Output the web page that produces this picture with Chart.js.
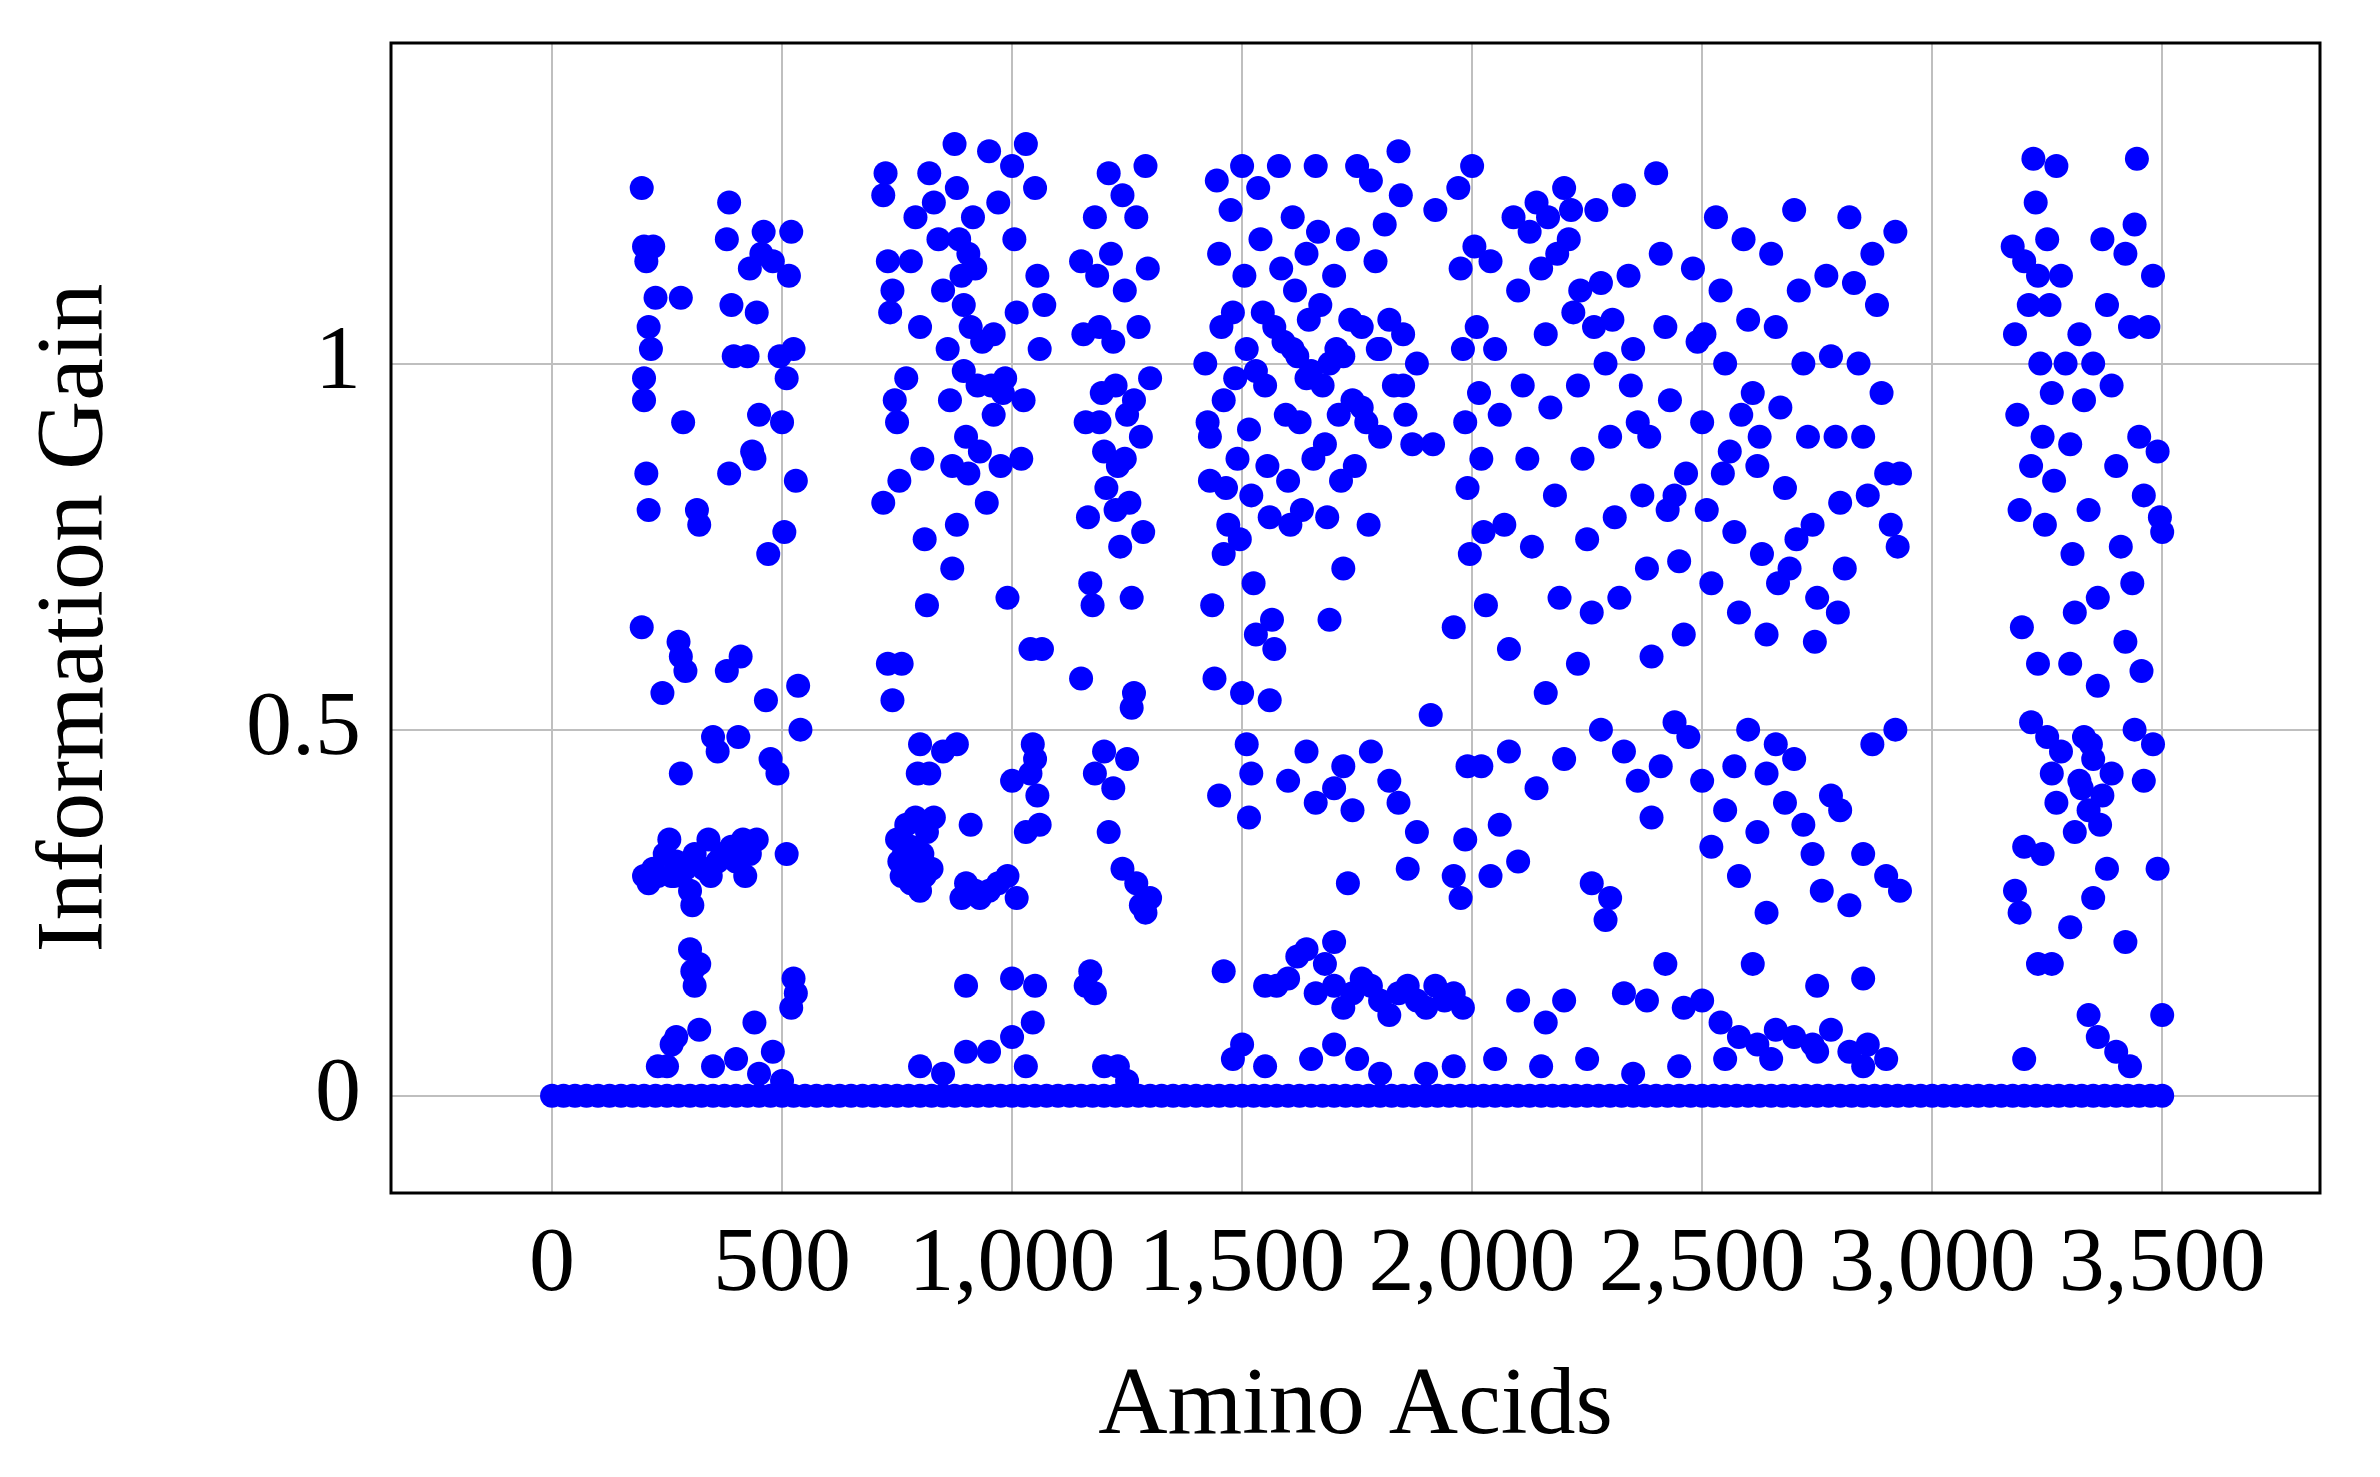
<!DOCTYPE html>
<html>
<head>
<meta charset="utf-8">
<script src="https://cdn.jsdelivr.net/npm/chart.js@4"></script>
<style>
  html, body { margin: 0; padding: 0; background: #fff; }
  #wrap { width: 2380px; height: 1477px; }
</style>
</head>
<body>
<div id="wrap"><canvas id="chart"></canvas></div>
<script>
// x positions of the points sitting on y = 0
const zeroX = [0,25,50,75,100,125,150,175,200,225,250,275,300,325,350,375,400,425,450,475,500,525,550,575,600,625,650,675,700,725,750,775,800,825,850,875,900,925,950,975,1000,1025,1050,1075,1100,1125,1150,1175,1200,1225,1250,1275,1300,1325,1350,1375,1400,1425,1450,1475,1500,1525,1550,1575,1600,1625,1650,1675,1700,1725,1750,1775,1800,1825,1850,1875,1900,1925,1950,1975,2000,2025,2050,2075,2100,2125,2150,2175,2200,2225,2250,2275,2300,2325,2350,2375,2400,2425,2450,2475,2500,2525,2550,2575,2600,2625,2650,2675,2700,2725,2750,2775,2800,2825,2850,2875,2900,2925,2950,2975,3000,3025,3050,3075,3100,3125,3150,3175,3200,3225,3250,3275,3300,3325,3350,3375,3400,3425,3450,3475,3500];

const groupA = [[195,1.24],[200,1.16],[205,1.14],[210,1.05],[200,0.98],[200,0.95],[205,0.85],[210,0.8],[195,0.64],[215,1.02],[220,1.16],[225,1.09],[200,0.3],[210,0.29],[220,0.31],[230,0.3],[240,0.55],[245,0.33],[255,0.35],[260,0.3],[270,0.32],[275,0.62],[280,0.6],[285,0.92],[280,1.09],[290,0.58],[300,0.28],[305,0.26],[310,0.33],[315,0.8],[320,0.78],[300,0.2],[305,0.17],[310,0.15],[320,0.18],[330,0.31],[340,0.35],[350,0.49],[360,0.47],[370,0.33],[380,0.58],[385,0.85],[390,1.08],[380,1.17],[385,1.22],[395,1.01],[400,0.32],[405,0.49],[410,0.6],[415,0.35],[420,0.3],[425,1.01],[430,1.13],[435,0.88],[440,0.87],[445,1.07],[450,0.93],[455,1.15],[460,1.18],[465,0.54],[470,0.74],[475,0.46],[480,1.14],[490,0.44],[495,1.01],[500,0.92],[505,0.77],[510,0.98],[515,1.12],[520,1.18],[525,1.02],[530,0.84],[535,0.56],[540,0.5],[530,0.14],[525,0.16],[520,0.12],[510,0.33],[440,0.1],[260,0.07],[270,0.08],[320,0.09],[250,0.04],[230,0.04],[350,0.04],[400,0.05],[450,0.03],[480,0.06],[500,0.02],[280,0.44],[265,0.3],[290,0.31],[345,0.3],[360,0.32],[390,0.34],[430,0.33],[445,0.35]];

const groupB = [[720,1.23],[725,1.26],[730,1.14],[735,1.07],[740,1.1],[745,0.95],[750,0.92],[755,0.84],[720,0.81],[730,0.59],[740,0.54],[750,0.35],[755,0.32],[760,0.3],[765,0.33],[770,0.37],[780,0.29],[790,0.32],[795,0.44],[800,0.48],[800,0.28],[810,0.3],[815,0.36],[820,0.44],[830,0.38],[760,0.59],[770,0.98],[780,1.14],[790,1.2],[800,1.05],[805,0.87],[810,0.76],[815,0.67],[820,1.26],[830,1.22],[840,1.17],[850,1.1],[860,1.02],[865,0.95],[870,0.86],[875,1.3],[880,1.24],[885,1.17],[890,1.12],[895,0.99],[900,0.9],[905,0.85],[910,1.05],[915,1.2],[920,1.13],[925,0.97],[930,0.88],[935,1.03],[945,0.81],[950,1.29],[955,0.97],[960,0.93],[970,1.22],[975,0.86],[980,0.96],[990,0.68],[1000,1.27],[1005,1.17],[1010,1.07],[1020,0.87],[1025,0.95],[1030,1.3],[1040,0.61],[1050,1.24],[1055,1.12],[1060,1.02],[1065,0.61],[1070,1.08],[870,0.72],[880,0.78],[890,0.27],[900,0.29],[910,0.37],[920,0.28],[930,0.27],[950,0.28],[970,0.29],[990,0.3],[1000,0.43],[1010,0.27],[1030,0.36],[1040,0.44],[1045,0.48],[1050,0.46],[1055,0.41],[1060,0.37],[1050,0.15],[1045,0.1],[1000,0.16],[900,0.15],[880,0.48],[850,0.47],[950,0.06],[1000,0.08],[1030,0.04],[900,0.06],[850,0.03],[800,0.04],[780,0.34],[790,0.38],[805,0.33],[825,0.31],[895,1.08],[905,1.15],[960,1.04],[985,0.98]];

const groupC = [[1150,1.14],[1155,1.04],[1160,0.92],[1165,0.79],[1170,0.7],[1175,0.67],[1180,1.2],[1185,1.12],[1190,1.05],[1195,0.96],[1200,0.88],[1205,0.83],[1210,1.26],[1215,1.15],[1220,1.03],[1225,0.97],[1230,0.86],[1235,0.75],[1240,1.23],[1245,1.1],[1250,0.93],[1255,0.81],[1260,0.68],[1265,0.55],[1270,1.2],[1275,1.05],[1280,0.9],[1285,0.77],[1290,1.27],[1295,1.13],[1300,0.98],[1150,0.57],[1180,0.44],[1200,0.47],[1210,0.36],[1220,0.42],[1250,0.46],[1260,0.53],[1240,0.31],[1270,0.29],[1280,0.26],[1300,0.27],[1290,0.25],[1170,0.17],[1180,0.14],[1160,0.15],[1200,0.04],[1230,0.04],[1250,0.02],[1190,0.92],[1225,0.8],[1245,0.87],[1265,0.95]];

const groupD = [[1420,1.0],[1425,0.92],[1430,0.84],[1435,0.67],[1440,0.57],[1445,1.25],[1450,1.15],[1455,1.05],[1460,0.95],[1465,0.83],[1470,0.78],[1475,1.21],[1480,1.07],[1485,0.98],[1490,0.87],[1495,0.76],[1500,1.27],[1505,1.12],[1510,1.02],[1515,0.91],[1520,0.82],[1525,0.7],[1530,0.63],[1535,1.24],[1540,1.17],[1545,1.07],[1550,0.97],[1555,0.86],[1560,0.79],[1565,0.65],[1570,0.61],[1580,1.27],[1585,1.13],[1590,1.03],[1595,0.93],[1600,0.84],[1605,0.78],[1610,1.2],[1615,1.1],[1620,1.01],[1625,0.92],[1630,0.8],[1640,1.15],[1645,1.06],[1650,0.99],[1655,0.87],[1660,1.27],[1665,1.18],[1670,1.08],[1675,0.97],[1680,0.89],[1685,0.79],[1690,0.65],[1700,1.12],[1705,1.02],[1710,0.93],[1715,0.84],[1720,0.72],[1730,1.17],[1735,1.06],[1740,0.95],[1745,0.86],[1750,1.27],[1760,1.05],[1770,0.92],[1775,0.78],[1780,1.25],[1790,1.14],[1795,1.02],[1800,0.9],[1810,1.19],[1820,1.06],[1830,0.97],[1840,1.29],[1845,1.23],[1850,1.04],[1855,0.93],[1870,0.89],[1920,1.21],[1915,0.89],[1450,0.41],[1460,0.17],[1500,0.55],[1510,0.48],[1515,0.38],[1520,0.44],[1560,0.54],[1600,0.43],[1640,0.47],[1660,0.4],[1700,0.42],[1720,0.45],[1730,0.29],[1700,0.21],[1740,0.39],[1780,0.47],[1820,0.43],[1840,0.4],[1860,0.31],[1880,0.36],[1910,0.52],[1960,0.3],[1975,0.27],[1985,0.35],[1990,0.45],[1600,0.16],[1620,0.19],[1640,0.2],[1660,0.14],[1680,0.18],[1700,0.15],[1720,0.12],[1740,0.14],[1760,0.16],[1780,0.15],[1800,0.13],[1820,0.11],[1840,0.14],[1860,0.15],[1880,0.13],[1900,0.12],[1920,0.15],[1940,0.13],[1960,0.14],[1980,0.12],[1550,0.15],[1575,0.15],[1500,0.07],[1480,0.05],[1550,0.04],[1650,0.05],[1700,0.07],[1750,0.05],[1800,0.03],[1900,0.03],[1960,0.04],[1430,0.9],[1460,0.74],[1530,0.99],[1570,1.05],[1610,1.02],[1640,0.98],[1690,1.0],[1720,1.01],[1760,0.94],[1800,1.02],[1850,0.97],[1880,1.0],[1960,0.64]];

const groupE = [[1970,1.24],[1975,1.13],[1980,1.02],[1985,0.92],[1990,0.83],[1995,0.74],[2000,1.27],[2005,1.16],[2010,1.05],[2015,0.96],[2020,0.87],[2025,0.77],[2030,0.67],[2040,1.14],[2050,1.02],[2060,0.93],[2070,0.78],[2080,0.61],[2090,1.2],[2100,1.1],[2110,0.97],[2120,0.87],[2130,0.75],[2140,1.22],[2150,1.13],[2160,1.04],[2170,0.94],[2180,0.82],[2190,0.68],[2200,1.24],[2210,1.17],[2220,1.07],[2230,0.97],[2240,0.87],[2250,0.76],[2260,0.66],[2270,1.21],[2280,1.11],[2290,1.0],[2300,0.9],[2310,0.79],[2320,0.68],[2330,1.23],[2340,1.12],[2350,1.02],[2360,0.92],[2370,0.82],[2380,0.72],[2390,0.6],[2400,1.26],[2410,1.15],[2420,1.05],[2430,0.95],[2440,0.82],[2450,0.73],[2460,0.63],[2480,1.13],[2490,1.03],[2500,0.92],[2510,0.8],[2520,0.7],[2530,1.2],[2540,1.1],[2550,1.0],[2560,0.88],[2570,0.77],[2580,0.66],[2590,1.17],[2600,1.06],[2610,0.96],[2620,0.86],[2630,0.74],[2640,0.63],[2650,1.15],[2660,1.05],[2670,0.94],[2680,0.83],[2690,0.72],[2700,1.21],[2710,1.1],[2720,1.0],[2730,0.9],[2740,0.78],[2750,0.68],[2770,1.12],[2780,1.01],[2790,0.9],[2800,0.81],[2810,0.72],[2820,1.2],[2830,1.11],[2840,1.0],[2850,0.9],[2860,0.82],[2870,1.15],[2880,1.08],[2890,0.96],[2900,0.85],[2910,0.78],[2920,1.18],[2925,0.75],[2930,0.85],[2020,0.45],[2040,0.3],[2060,0.37],[2080,0.47],[2100,0.32],[2140,0.42],[2160,0.55],[2200,0.46],[2230,0.59],[2260,0.29],[2280,0.5],[2290,0.24],[2300,0.27],[2330,0.47],[2360,0.43],[2390,0.38],[2410,0.45],[2440,0.51],[2470,0.49],[2500,0.43],[2520,0.34],[2550,0.39],[2570,0.45],[2580,0.3],[2600,0.5],[2620,0.36],[2640,0.44],[2660,0.48],[2680,0.4],[2700,0.46],[2720,0.37],[2740,0.33],[2760,0.28],[2780,0.41],[2800,0.39],[2820,0.26],[2850,0.33],[2870,0.48],[2900,0.3],[2920,0.5],[2930,0.28],[2640,0.25],[2610,0.18],[2750,0.15],[2850,0.16],[2100,0.13],[2200,0.13],[2160,0.1],[2330,0.14],[2380,0.13],[2420,0.18],[2460,0.12],[2500,0.13],[2540,0.1],[2580,0.08],[2620,0.07],[2660,0.09],[2700,0.08],[2740,0.07],[2780,0.09],[2820,0.06],[2860,0.07],[2900,0.05],[2050,0.05],[2150,0.04],[2250,0.05],[2350,0.03],[2450,0.04],[2550,0.05],[2650,0.05],[2750,0.06],[2850,0.04],[2125,1.18],[2165,1.2],[2185,1.15],[2215,1.21],[2235,1.1],[2265,1.05],[2305,1.06],[2345,0.97],[2385,0.9],[2425,0.8],[2465,0.85],[2505,1.04],[2545,0.85],[2585,0.93],[2625,0.9],[2665,0.7],[2705,0.76],[2745,0.62],[2795,0.66]];

const groupF = [[3175,1.16],[3180,1.04],[3185,0.93],[3190,0.8],[3195,0.64],[3200,1.14],[3210,1.08],[3215,0.86],[3220,1.28],[3225,1.22],[3230,1.12],[3235,1.0],[3240,0.9],[3245,0.78],[3250,1.17],[3255,1.08],[3260,0.96],[3265,0.84],[3270,1.27],[3280,1.12],[3290,1.0],[3300,0.89],[3305,0.74],[3310,0.66],[3320,1.04],[3330,0.95],[3340,0.8],[3350,1.0],[3360,0.68],[3370,1.17],[3380,1.08],[3390,0.97],[3400,0.86],[3410,0.75],[3420,1.15],[3430,1.05],[3440,1.19],[3445,1.28],[3450,0.9],[3460,0.82],[3470,1.05],[3480,1.12],[3490,0.88],[3495,0.79],[3500,0.77],[3180,0.28],[3190,0.25],[3200,0.34],[3215,0.51],[3230,0.59],[3240,0.33],[3250,0.49],[3260,0.44],[3270,0.4],[3280,0.47],[3300,0.59],[3310,0.36],[3320,0.43],[3330,0.49],[3340,0.39],[3350,0.46],[3360,0.56],[3370,0.41],[3380,0.31],[3390,0.44],[3420,0.62],[3440,0.5],[3460,0.43],[3480,0.48],[3490,0.31],[3420,0.21],[3350,0.27],[3300,0.23],[3230,0.18],[3260,0.18],[3340,0.11],[3360,0.08],[3400,0.06],[3430,0.04],[3500,0.11],[3200,0.05],[3325,0.42],[3345,0.48],[3365,0.37],[3435,0.7],[3455,0.58]];

const xTicks = [0, 500, 1000, 1500, 2000, 2500, 3000, 3500];
const yTicks = [0, 0.5, 1];

const toPoints = g => g.map(p => ({ x: p[0], y: p[1] }));
const allPoints = zeroX.map(x => ({ x: x, y: 0 }))
    .concat(toPoints(groupA), toPoints(groupB), toPoints(groupC),
            toPoints(groupD), toPoints(groupE), toPoints(groupF));

const serif = 'Liberation Serif';

// frame around the plot area
const framePlugin = {
    id: 'frame',
    afterDraw(chart) {
        const a = chart.chartArea, ctx = chart.ctx;
        ctx.save();
        ctx.strokeStyle = '#000';
        ctx.lineWidth = 3;
        ctx.strokeRect(a.left, a.top, a.right - a.left, a.bottom - a.top);
        ctx.restore();
    }
};

new Chart(document.getElementById('chart'), {
    type: 'scatter',
    data: {
        datasets: [{
            data: allPoints,
            backgroundColor: '#0000ff',
            borderColor: '#0000ff',
            pointRadius: 12,
            borderWidth: 0,
        }]
    },
    options: {
        responsive: true,
        maintainAspectRatio: false,
        animation: false,
        layout: { padding: { top: 43, right: 60, left: 0, bottom: 0 } },
        plugins: { legend: { display: false }, tooltip: { enabled: false } },
        scales: {
            x: {
                min: -350, max: 3843,
                afterBuildTicks: s => { s.ticks = xTicks.map(v => ({ value: v })); },
                afterFit: s => { s.height = 284; },
                grid: { color: '#bfbfbf', lineWidth: 2, drawTicks: false },
                border: { display: false },
                ticks: {
                    color: '#000', padding: 18, maxRotation: 0, autoSkip: false,
                    font: { family: serif, size: 92 },
                    callback: v => v.toLocaleString('en-US')
                },
                title: { display: true, text: 'Amino Acids', color: '#000', font: { family: serif, size: 96 }, padding: { top: 0, bottom: 12 } }
            },
            y: {
                min: -0.133, max: 1.438,
                afterBuildTicks: s => { s.ticks = yTicks.map(v => ({ value: v })); },
                afterFit: s => { s.width = 391; s.paddingTop = 0; s.paddingBottom = 0; },
                grid: { color: '#bfbfbf', lineWidth: 2, drawTicks: false },
                border: { display: false },
                ticks: {
                    color: '#000', padding: 30,
                    font: { family: serif, size: 92 },
                    callback: v => String(v)
                },
                title: { display: true, text: 'Information Gain', color: '#000', font: { family: serif, size: 96 }, padding: { top: 19, bottom: 0 } }
            }
        }
    },
    plugins: [framePlugin]
});
</script>
</body>
</html>
